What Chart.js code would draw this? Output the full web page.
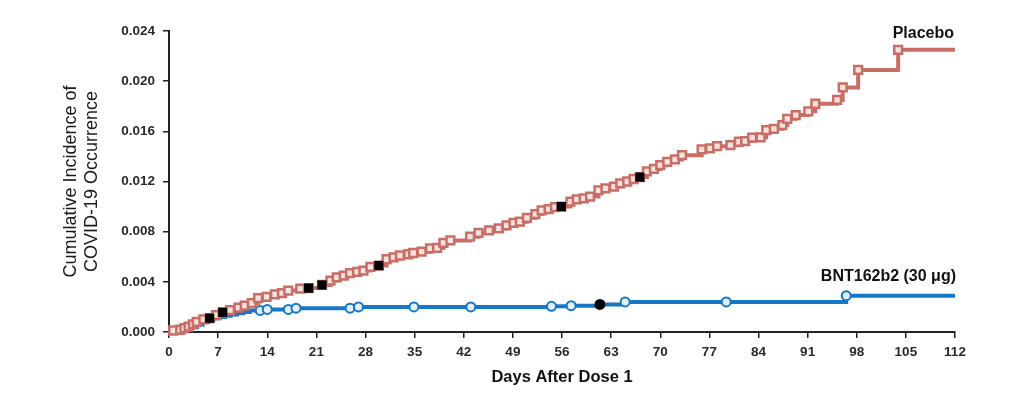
<!DOCTYPE html>
<html>
<head>
<meta charset="utf-8">
<script src="https://cdn.jsdelivr.net/npm/chart.js@4.4.1/dist/chart.umd.min.js"></script>
<style>
  html, body { margin: 0; padding: 0; background: #fff; }
  #wrap { width: 1024px; height: 399px; position: relative; }
</style>
</head>
<body>
<div id="wrap"><canvas id="c"></canvas></div>
<script>
// ---- Data ----
const xTicksMax = 112;
const xStep = 7;
const yMax = 0.024;
const yStep = 0.004;

const placeboDays = [0, 0.6, 1.6, 2.2, 2.8, 3.4, 3.95, 4.9, 5.8, 6.7, 7.65, 8.7, 9.9, 10.8, 11.8, 12.7, 13.9, 15.1, 16.1, 17.0, 18.7, 19.9, 21.8, 23.0, 23.9, 24.9, 25.8, 26.8, 27.7, 28.7, 29.9, 31.0, 32.0, 32.9, 34.1, 34.8, 36.0, 37.2, 38.2, 39.1, 40.1, 42.9, 44.1, 45.6, 47.0, 48.1, 49.1, 50.0, 51.0, 52.2, 53.1, 54.1, 55.0, 55.9, 57.2, 58.1, 59.1, 60.0, 61.2, 62.2, 63.4, 64.3, 65.3, 66.2, 67.1, 68.1, 69.1, 70.0, 71.0, 72.1, 73.1, 75.9, 77.1, 78.1, 80.0, 81.2, 82.1, 83.1, 84.3, 85.1, 86.2, 87.4, 88.1, 89.3, 91.1, 92.1, 95.2, 96.0, 98.2, 103.9, 112];
const placeboInc = [0, 0.00012, 0.00018, 0.0003, 0.00042, 0.0006, 0.0008, 0.001, 0.0011, 0.00135, 0.00157, 0.00175, 0.00195, 0.0021, 0.0023, 0.0027, 0.0028, 0.003, 0.0031, 0.0033, 0.00345, 0.0035, 0.00375, 0.0041, 0.00436, 0.0045, 0.0047, 0.0048, 0.0049, 0.0052, 0.0053, 0.0058, 0.00595, 0.0061, 0.0062, 0.0063, 0.0064, 0.00667, 0.0067, 0.0071, 0.0073, 0.0076, 0.0079, 0.0081, 0.00826, 0.0085, 0.0087, 0.0088, 0.0091, 0.0094, 0.0097, 0.0098, 0.00995, 0.0100, 0.0104, 0.01058, 0.01066, 0.0108, 0.0113, 0.01145, 0.0116, 0.01185, 0.0120, 0.0122, 0.01235, 0.0128, 0.0130, 0.0133, 0.01357, 0.01376, 0.0141, 0.01456, 0.01464, 0.01482, 0.0149, 0.01517, 0.01522, 0.0155, 0.01552, 0.0161, 0.0162, 0.0165, 0.0170, 0.0173, 0.0176, 0.0182, 0.0185, 0.0195, 0.0209, 0.0225, 0.0225];
const placeboSolidDays = [5.8, 7.65, 19.9, 21.8, 29.9, 55.9, 67.1];

const bntDays = [0, 1.5, 2.5, 3.2, 4.0, 4.8, 5.6, 6.3, 7.2, 8.0, 8.8, 9.7, 10.6, 11.5, 13.6, 18.0, 26.8, 54.5, 57.3, 61.4, 65.0, 96.5, 112];
const bntInc = [0, 0.0001, 0.0002, 0.0004, 0.0006, 0.0008, 0.00095, 0.0011, 0.0012, 0.0013, 0.0014, 0.0015, 0.0016, 0.00172, 0.0018, 0.0019, 0.002, 0.00205, 0.0021, 0.0022, 0.0024, 0.0029, 0.0029];
const bntCensorDays = [13.0, 14.0, 17.0, 18.1, 25.8, 27.0, 34.9, 43.0, 54.5, 57.3, 65.0, 79.4, 96.5];
const bntSolidDays = [61.4];

const seriesNames = ['Placebo', 'BNT162b2 (30 μg)'];
const xTitle = 'Days After Dose 1';
const yTitle = ['Cumulative Incidence of', 'COVID-19 Occurrence'];

// ---- helpers ----
function stepValue(days, inc, d) {
  let v = inc[0];
  for (let i = 0; i < days.length; i++) { if (days[i] <= d + 1e-9) v = inc[i]; }
  return v;
}
const toPts = (days, inc) => days.map((d, i) => ({ x: d, y: inc[i] }));
const onStep = (days, inc, marks) => marks.map(d => ({ x: d, y: stepValue(days, inc, d) }));

const RED = '#c96e66';
const BLUE = '#1677c8';
const FONT = '"Liberation Sans", Arial, Helvetica, sans-serif';

const seriesLabels = {
  id: 'seriesLabels',
  afterDatasetsDraw(chart) {
    const { ctx, scales: { x, y } } = chart;
    ctx.save();
    ctx.font = 'bold 16px ' + FONT;
    ctx.fillStyle = '#111';
    ctx.textAlign = 'right';
    ctx.textBaseline = 'middle';
    const xe = x.getPixelForValue(placeboDays[placeboDays.length - 1]) - 1;
    ctx.fillText(seriesNames[0], xe, y.getPixelForValue(placeboInc[placeboInc.length - 1]) - 16);
    ctx.fillText(seriesNames[1], xe + 2, y.getPixelForValue(bntInc[bntInc.length - 1]) - 19);
    ctx.restore();
  }
};

const nP = placeboDays.length;

new Chart(document.getElementById('c'), {
  type: 'line',
  data: {
    datasets: [
      {
        label: 'Placebo events',
        data: onStep(placeboDays, placeboInc, placeboSolidDays),
        showLine: false,
        pointStyle: 'rect',
        pointRadius: 6.5,
        pointBackgroundColor: '#000',
        pointBorderColor: '#000',
        pointBorderWidth: 0,
        order: 0,
        clip: false
      },
      {
        label: 'BNT events',
        data: onStep(bntDays, bntInc, bntSolidDays),
        showLine: false,
        pointStyle: 'circle',
        pointRadius: 5.5,
        pointBackgroundColor: '#000',
        pointBorderColor: '#000',
        pointBorderWidth: 0,
        order: 1,
        clip: false
      },
      {
        label: seriesNames[0],
        data: toPts(placeboDays, placeboInc),
        stepped: 'before',
        borderColor: RED,
        borderWidth: 4,
        pointStyle: 'rect',
        pointRadius: ctx => (ctx.dataIndex === 0 || ctx.dataIndex === nP - 1) ? 0 : 5.5,
        pointBackgroundColor: '#f6e2df',
        pointBorderColor: RED,
        pointBorderWidth: 2.5,
        order: 2,
        clip: false
      },
      {
        label: 'BNT censored',
        data: onStep(bntDays, bntInc, bntCensorDays),
        showLine: false,
        pointStyle: 'circle',
        pointRadius: 4.5,
        pointBackgroundColor: '#e3eff9',
        pointBorderColor: BLUE,
        pointBorderWidth: 2,
        order: 3,
        clip: false
      },
      {
        label: seriesNames[1],
        data: toPts(bntDays, bntInc),
        stepped: 'before',
        borderColor: BLUE,
        borderWidth: 4,
        pointRadius: 0,
        order: 4,
        clip: false
      }
    ]
  },
  options: {
    responsive: true,
    maintainAspectRatio: false,
    animation: false,
    layout: { padding: { left: 60, right: 69, top: 31, bottom: 12 } },
    plugins: { legend: { display: false }, tooltip: { enabled: false } },
    scales: {
      x: {
        type: 'linear',
        min: 0, max: xTicksMax,
        afterFit: s => { s.height = 55; },
        ticks: {
          stepSize: xStep, autoSkip: false, maxRotation: 0, padding: 6,
          color: '#2a2a2a', font: { family: FONT, size: 13.5, weight: 'bold' }
        },
        grid: { drawOnChartArea: false, drawTicks: true, tickLength: 6, color: '#222', lineWidth: 1.5 },
        border: { display: true, color: '#222', width: 2 },
        title: {
          display: true, text: xTitle, color: '#111', padding: 0,
          font: { family: FONT, size: 16.5, weight: 'bold' }
        }
      },
      y: {
        min: 0, max: yMax,
        afterFit: s => { s.width = 109; },
        ticks: {
          stepSize: yStep, padding: 8,
          color: '#2a2a2a', font: { family: FONT, size: 13.5, weight: 'bold' },
          callback: v => Number(v).toFixed(3)
        },
        grid: { drawOnChartArea: false, drawTicks: true, tickLength: 6, color: '#222', lineWidth: 1.5 },
        border: { display: true, color: '#222', width: 2 },
        title: {
          display: true, text: yTitle, color: '#1a1a1a', padding: 0,
          font: { family: FONT, size: 18, weight: 'normal', lineHeight: 1.2 }
        }
      }
    }
  },
  plugins: [seriesLabels]
});
</script>
</body>
</html>
